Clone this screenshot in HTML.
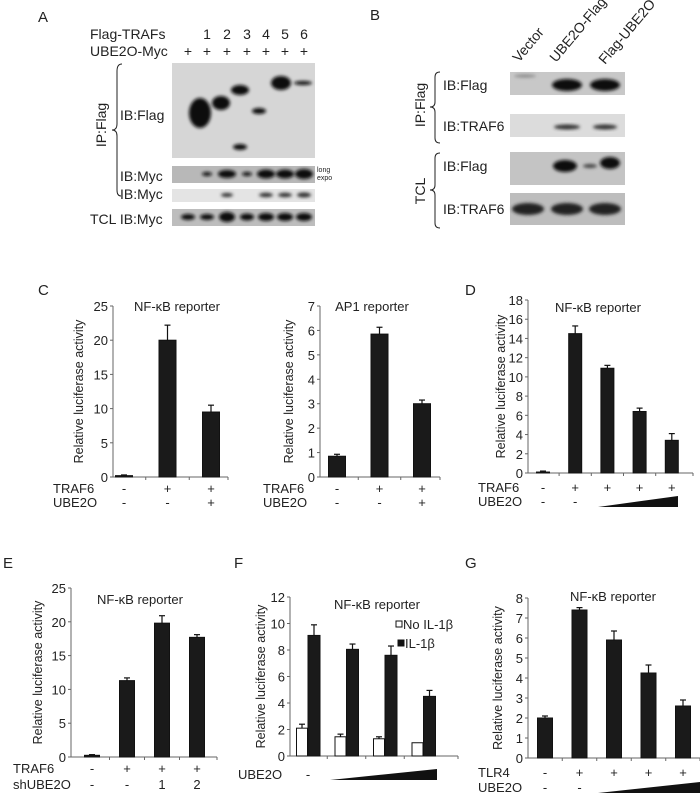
<!DOCTYPE html>
<html><head><meta charset="utf-8">
<style>
html,body{margin:0;padding:0;background:#fff;}
svg{display:block;font-family:"Liberation Sans",sans-serif;}
</style></head>
<body>
<svg id="fig" width="700" height="795" viewBox="0 0 700 795">
<defs>
<filter id="blur1" x="-50%" y="-50%" width="200%" height="200%"><feGaussianBlur stdDeviation="1.5"/></filter>
</defs>

<!-- Panel A -->
<g font-size="14" fill="#222">
<text x="38" y="22" font-size="15">A</text>
<text x="90" y="39">Flag-TRAFs</text>
<text x="90" y="56">UBE2O-Myc</text>
<g text-anchor="middle">
<text x="207" y="39">1</text><text x="227" y="39">2</text><text x="247" y="39">3</text><text x="266" y="39">4</text><text x="285" y="39">5</text><text x="304" y="39">6</text>
</g>
<g text-anchor="middle">
<text x="188" y="56">+</text><text x="207" y="56">+</text><text x="227" y="56">+</text><text x="247" y="56">+</text><text x="266" y="56">+</text><text x="285" y="56">+</text><text x="304" y="56">+</text>
</g>
<rect x="172" y="63" width="143" height="95" fill="#d6d6d6"/>
<g filter="url(#blur1)" fill="#111">
<ellipse cx="200" cy="113" rx="11" ry="15"/>
<ellipse cx="221" cy="103" rx="9" ry="7"/>
<ellipse cx="240" cy="90" rx="9" ry="5"/>
<ellipse cx="240" cy="147" rx="7" ry="3"/>
<ellipse cx="259" cy="111" rx="7" ry="3"/>
<ellipse cx="281" cy="83" rx="10" ry="7"/>
<ellipse cx="303" cy="83" rx="9" ry="2"/>
</g>
<rect x="172" y="166" width="143" height="17" fill="#b8b8b8"/>
<g filter="url(#blur1)" fill="#111">
<ellipse cx="207" cy="174" rx="5" ry="2"/><ellipse cx="227" cy="174" rx="9" ry="4"/><ellipse cx="247" cy="174" rx="5" ry="2"/>
<ellipse cx="266" cy="174" rx="9" ry="4.5"/><ellipse cx="285" cy="174" rx="9" ry="4.5"/><ellipse cx="304" cy="174" rx="9" ry="5"/>
</g>
<text x="317" y="172" font-size="7">long</text><text x="317" y="180" font-size="7">expo</text>
<rect x="172" y="189" width="143" height="13" fill="#e4e4e4"/>
<g filter="url(#blur1)" fill="#333">
<ellipse cx="227" cy="195" rx="6" ry="2"/><ellipse cx="266" cy="195" rx="7" ry="2.2"/><ellipse cx="285" cy="195" rx="7" ry="2.2"/><ellipse cx="304" cy="195" rx="7" ry="2.5"/>
</g>
<rect x="172" y="209" width="143" height="17" fill="#bdbdbd"/>
<g filter="url(#blur1)" fill="#111">
<ellipse cx="188" cy="217" rx="7" ry="3"/><ellipse cx="207" cy="217" rx="7" ry="3"/><ellipse cx="227" cy="217" rx="8" ry="5"/><ellipse cx="247" cy="217" rx="7" ry="3.5"/>
<ellipse cx="266" cy="217" rx="8" ry="4"/><ellipse cx="285" cy="217" rx="8" ry="4"/><ellipse cx="304" cy="217" rx="8" ry="4"/>
</g>
<text x="120" y="120">IB:Flag</text>
<text x="120" y="181">IB:Myc</text>
<text x="120" y="199">IB:Myc</text>
<text x="90" y="224">TCL IB:Myc</text>
<text transform="translate(106,125) rotate(-90)" text-anchor="middle">IP:Flag</text>
<path d="M122,64 Q117,64 117,71 L117,124 Q117,130 112,130 Q117,130 117,136 L117,190 Q117,196 121,196" fill="none" stroke="#222" stroke-width="1"/>
</g>

<!-- Panel B -->
<g font-size="14" fill="#222">
<text x="370" y="20" font-size="15">B</text>
<text transform="translate(519,63) rotate(-50)">Vector</text>
<text transform="translate(556,63) rotate(-50)">UBE2O-Flag</text>
<text transform="translate(605,65) rotate(-50)">Flag-UBE2O</text>
<rect x="510" y="72" width="115" height="23" fill="#c8c8c8"/>
<g filter="url(#blur1)" fill="#111"><ellipse cx="567" cy="85" rx="15" ry="6"/><ellipse cx="605" cy="85" rx="15" ry="6"/><ellipse cx="525" cy="76" rx="11" ry="1.5" fill="#888"/></g>
<rect x="510" y="114" width="115" height="23" fill="#dcdcdc"/>
<g filter="url(#blur1)" fill="#333"><ellipse cx="567" cy="127" rx="13" ry="2.5"/><ellipse cx="605" cy="127" rx="12" ry="2.5"/></g>
<rect x="510" y="152" width="115" height="33" fill="#c4c4c4"/>
<g filter="url(#blur1)" fill="#111"><ellipse cx="565" cy="166" rx="12" ry="6"/><ellipse cx="610" cy="163" rx="10" ry="6"/><ellipse cx="590" cy="166" rx="7" ry="2" fill="#444"/></g>
<rect x="510" y="193" width="115" height="32" fill="#bdbdbd"/>
<g filter="url(#blur1)" fill="#222"><ellipse cx="528" cy="209" rx="16" ry="6"/><ellipse cx="567" cy="209" rx="16" ry="6"/><ellipse cx="605" cy="209" rx="16" ry="6"/></g>
<text x="443" y="90">IB:Flag</text>
<text x="443" y="131">IB:TRAF6</text>
<text x="443" y="171">IB:Flag</text>
<text x="443" y="214">IB:TRAF6</text>
<text transform="translate(425,105) rotate(-90)" text-anchor="middle">IP:Flag</text>
<text transform="translate(425,191) rotate(-90)" text-anchor="middle">TCL</text>
<path d="M440,72 Q435,72 435,77 L435,102 Q435,107 430,107 Q435,107 435,112 L435,138 Q435,143 440,143" fill="none" stroke="#222"/>
<path d="M440,153 Q435,153 435,158 L435,185 Q435,190 430,190 Q435,190 435,195 L435,223 Q435,228 440,228" fill="none" stroke="#222"/>
</g>

<!-- Panel letters -->
<g font-size="15" fill="#222">
<text x="38" y="295">C</text>
<text x="465" y="295">D</text>
<text x="3" y="568">E</text>
<text x="234" y="568">F</text>
<text x="465" y="568">G</text>
</g>
<g id="charts"></g>
</svg>
<script>
// Chart C1
const c1Values = [0.2, 20, 9.5];
const c1Errors = [0.1, 2.2, 1.0];
const c1Ticks = [0, 5, 10, 15, 20, 25];
const c1Row1 = ["-", "+", "+"];
const c1Row2 = ["-", "-", "+"];
// Chart C2
const c2Values = [0.85, 5.85, 3.0];
const c2Errors = [0.08, 0.28, 0.15];
const c2Ticks = [0, 1, 2, 3, 4, 5, 6, 7];
const c2Row1 = ["-", "+", "+"];
const c2Row2 = ["-", "-", "+"];
// Chart D
const dValues = [0.1, 14.5, 10.9, 6.4, 3.4];
const dErrors = [0.1, 0.8, 0.3, 0.35, 0.7];
const dTicks = [0, 2, 4, 6, 8, 10, 12, 14, 16, 18];
const dRow1 = ["-", "+", "+", "+", "+"];
const dRow2 = ["-", "-"];
// Chart E
const eValues = [0.25, 11.3, 19.8, 17.7];
const eErrors = [0.1, 0.4, 1.1, 0.4];
const eTicks = [0, 5, 10, 15, 20, 25];
const eRow1 = ["-", "+", "+", "+"];
const eRow2 = ["-", "-", "1", "2"];
// Chart F
const fNoIL = [2.1, 1.45, 1.3, 1.0];
const fNoILErr = [0.3, 0.2, 0.15, 0];
const fIL = [9.1, 8.05, 7.6, 4.5];
const fILErr = [0.8, 0.4, 0.7, 0.45];
const fTicks = [0, 2, 4, 6, 8, 10, 12];
const fLegend = ["No IL-1\u03b2", "IL-1\u03b2"];
// Chart G
const gValues = [2.0, 7.4, 5.9, 4.25, 2.6];
const gErrors = [0.1, 0.12, 0.45, 0.4, 0.3];
const gTicks = [0, 1, 2, 3, 4, 5, 6, 7, 8];
const gRow1 = ["-", "+", "+", "+", "+"];
const gRow2 = ["-", "-"];

const NS = "http://www.w3.org/2000/svg";
const root = document.getElementById("charts");
function mk(tag, attrs, parent) {
  const el = document.createElementNS(NS, tag);
  for (const k in attrs) el.setAttribute(k, attrs[k]);
  (parent || root).appendChild(el);
  return el;
}
function txt(x, y, s, size, anchor, parent, extra) {
  const t = mk("text", Object.assign({x: x, y: y, "font-size": size, "text-anchor": anchor || "middle", fill: "#222"}, extra || {}), parent);
  t.textContent = s;
  return t;
}

function chart(cfg) {
  const g = mk("g", {});
  
  
  const max = cfg.ticks[cfg.ticks.length - 1];
  const yS = v => cfg.y0 - (v / max) * (cfg.y0 - cfg.yTop);
  const n = cfg.n;
  const xS = i => cfg.x0 + cfg.first + i * cfg.step;
  const ya = mk("line", {x1: cfg.x0, y1: cfg.yTop, x2: cfg.x0, y2: cfg.y0, stroke: "#666", "stroke-width": 1}, g);
  
  
  const xa = mk("line", {x1: cfg.x0, y1: cfg.y0, x2: cfg.xEnd, y2: cfg.y0, stroke: "#666", "stroke-width": 1}, g);
  
  
  cfg.ticks.forEach(t => {
    mk("line", {x1: cfg.x0 - 3, y1: yS(t), x2: cfg.x0, y2: yS(t), stroke: "#666"}, g);
    const tl = txt(cfg.x0 - 5, yS(t) + 5, String(t), 13, "end", g);
    
    
  });
  for (let i = 1; i < n; i++) {
    const xx = cfg.x0 + cfg.first + (i - 0.5) * cfg.step;
    mk("line", {x1: xx, y1: cfg.y0, x2: xx, y2: cfg.y0 + 3, stroke: "#666"}, g);
  }
  mk("line", {x1: cfg.xEnd, y1: cfg.y0, x2: cfg.xEnd, y2: cfg.y0 + 3, stroke: "#666"}, g);
  const yt = txt(0, 0, "Relative luciferase activity", 12.5, "middle", g, {transform: "translate(" + cfg.titleX + "," + ((cfg.yTop + cfg.y0) / 2) + ") rotate(-90)"});
  
  
  const tt = txt(cfg.titleCx, cfg.titleY, cfg.title, 13, "middle", g);
  
  
  function bars(vals, errs, offset, bw, fill, nm) {
    vals.forEach((v, i) => {
      const cx = xS(i) + offset;
      const r = mk("rect", {x: cx - bw / 2, y: yS(v), width: bw, height: cfg.y0 - yS(v), fill: fill, stroke: "#111", "stroke-width": 1}, g);
      
      
      const e = errs[i];
      if (e > 0) {
        mk("line", {x1: cx, y1: yS(v), x2: cx, y2: yS(v + e), stroke: "#111", "stroke-width": 1.2}, g);
        mk("line", {x1: cx - 3, y1: yS(v + e), x2: cx + 3, y2: yS(v + e), stroke: "#111", "stroke-width": 1.2}, g);
      }
    });
  }
  cfg.series.forEach(s => bars(s.vals, s.errs, s.off, s.bw, s.fill, s.name));
  cfg.rows.forEach(r => {
    const lb = txt(cfg.rowLabelX, r.y, r.label, 13, "start", g);
    
    
    r.vals.forEach((s, i) => {
      const c = txt(xS(i), r.y, s, 13, "middle", g);
      
      
    });
    if (r.tri) {
      const p = mk("polygon", {points: r.tri[0] + "," + (r.y + 1) + " " + r.tri[1] + "," + (r.y + 1) + " " + r.tri[1] + "," + (r.y - 10), fill: "#111"}, g);
      
      
    }
  });
  return g;
}

chart({name: "chart-c-nfkb", x0: 113, xEnd: 228, yTop: 306, y0: 477, ticks: c1Ticks, n: 3, first: 11, step: 43.5,
  series: [{vals: c1Values, errs: c1Errors, off: 0, bw: 17, fill: "#1a1a1a", name: "bar"}],
  title: "NF-\u03baB reporter", titleCx: 177, titleY: 311, titleX: 83, rowLabelX: 53,
  rows: [{label: "TRAF6", y: 493, vals: c1Row1}, {label: "UBE2O", y: 507, vals: c1Row2}]});
chart({name: "chart-c-ap1", x0: 320, xEnd: 440, yTop: 306, y0: 477, ticks: c2Ticks, n: 3, first: 17, step: 42.5,
  series: [{vals: c2Values, errs: c2Errors, off: 0, bw: 17, fill: "#1a1a1a", name: "bar"}],
  title: "AP1 reporter", titleCx: 372, titleY: 311, titleX: 293, rowLabelX: 263,
  rows: [{label: "TRAF6", y: 493, vals: c2Row1}, {label: "UBE2O", y: 507, vals: c2Row2}]});
chart({name: "chart-d-nfkb", x0: 528, xEnd: 693, yTop: 300, y0: 473, ticks: dTicks, n: 5, first: 15, step: 32.2,
  series: [{vals: dValues, errs: dErrors, off: 0, bw: 13, fill: "#1a1a1a", name: "bar"}],
  title: "NF-\u03baB reporter", titleCx: 598, titleY: 312, titleX: 505, rowLabelX: 478,
  rows: [{label: "TRAF6", y: 492, vals: dRow1}, {label: "UBE2O", y: 506, vals: dRow2, tri: [598, 678]}]});
chart({name: "chart-e-nfkb", x0: 71, xEnd: 217, yTop: 588, y0: 757, ticks: eTicks, n: 4, first: 21, step: 35,
  series: [{vals: eValues, errs: eErrors, off: 0, bw: 15, fill: "#1a1a1a", name: "bar"}],
  title: "NF-\u03baB reporter", titleCx: 140, titleY: 604, titleX: 42, rowLabelX: 13,
  rows: [{label: "TRAF6", y: 773, vals: eRow1}, {label: "shUBE2O", y: 789, vals: eRow2}]});
chart({name: "chart-f-nfkb", x0: 290, xEnd: 458, yTop: 597, y0: 756, ticks: fTicks, n: 4, first: 18, step: 38.5,
  series: [{vals: fNoIL, errs: fNoILErr, off: -6, bw: 11, fill: "#fff", name: "bar-no-il1b"},
           {vals: fIL, errs: fILErr, off: 6, bw: 12, fill: "#1a1a1a", name: "bar-il1b"}],
  title: "NF-\u03baB reporter", titleCx: 377, titleY: 609, titleX: 265, rowLabelX: 238,
  rows: [{label: "UBE2O", y: 779, vals: ["-"], tri: [330, 437]}]});
chart({name: "chart-g-nfkb", x0: 528, xEnd: 700, yTop: 598, y0: 758, ticks: gTicks, n: 5, first: 17, step: 34.5,
  series: [{vals: gValues, errs: gErrors, off: 0, bw: 15, fill: "#1a1a1a", name: "bar"}],
  title: "NF-\u03baB reporter", titleCx: 613, titleY: 601, titleX: 502, rowLabelX: 478,
  rows: [{label: "TLR4", y: 777, vals: gRow1}, {label: "UBE2O", y: 792, vals: gRow2, tri: [598, 700]}]});

const lg = mk("g", {});


fLegend.forEach((s, i) => {
  const y = 629 + i * 19;
  const sw = mk("rect", {x: 396 + i * 2, y: y - 8, width: 6, height: 6, fill: i ? "#111" : "#fff", stroke: "#111"}, lg);
  
  
  const t = txt(403 + i * 2, y, s, 13, "start", lg);
  
  
});
</script>
</body></html>
